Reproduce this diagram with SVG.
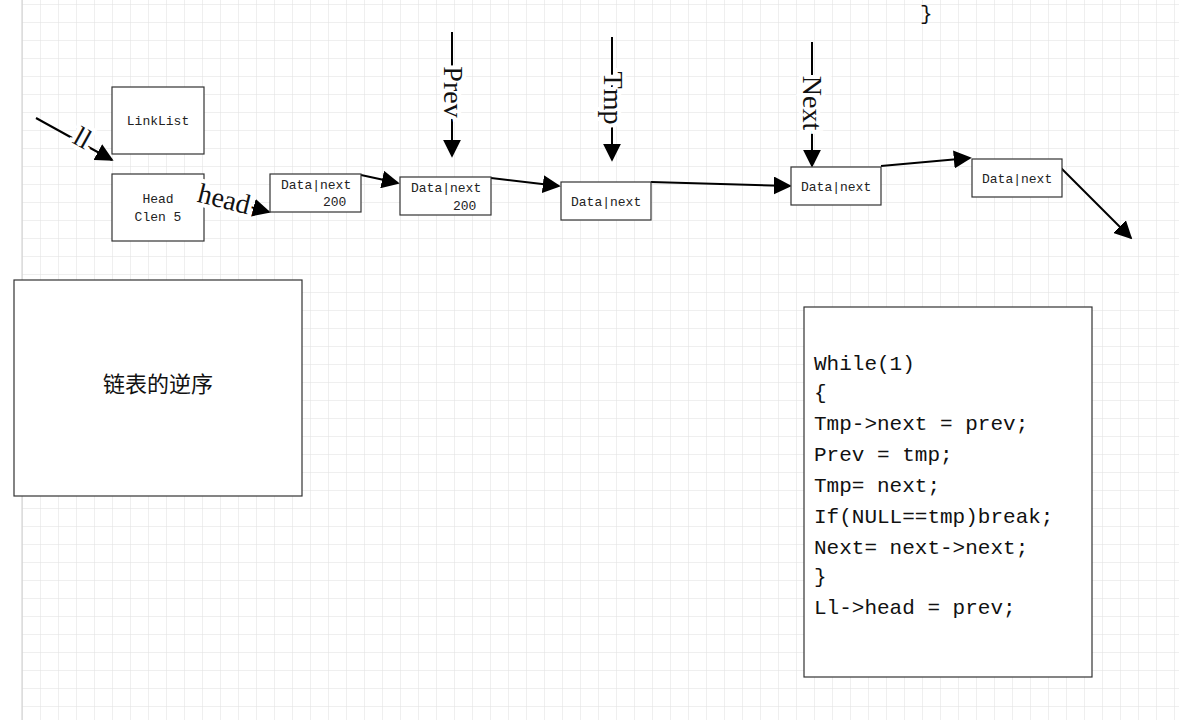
<svg xmlns="http://www.w3.org/2000/svg" width="1179" height="720" viewBox="0 0 1179 720">
<defs>
<pattern id="g" x="22" y="4" width="18" height="18" patternUnits="userSpaceOnUse"><path d="M0 0H18M0 0V18" stroke="#e0e0e0" stroke-width="1" fill="none"/></pattern>
<marker id="a" viewBox="0 0 10 10" refX="9" refY="5" markerWidth="18" markerHeight="18" markerUnits="userSpaceOnUse" orient="auto"><path d="M0 0L10 5L0 10z" fill="#000"/></marker>
<style>
.b{fill:#fff;stroke:#333;stroke-width:1.2}
.m{font-family:"Liberation Mono","DejaVu Sans Mono",monospace;font-size:13px;fill:#222}
.s{font-family:"Liberation Serif",serif;font-size:28px;fill:#111}
.c{font-family:"Liberation Mono","Noto Sans CJK SC",monospace;font-size:21px;fill:#111}
.l{stroke:#000;stroke-width:2;fill:none;marker-end:url(#a)}
</style>
</defs>
<rect width="1179" height="720" fill="#fff"/>
<rect x="22" y="0" width="1157" height="720" fill="url(#g)"/>
<line x1="22" y1="0" x2="22" y2="720" stroke="#ccc"/>
<text x="920" y="20" class="c" font-size="18">}</text>
<g id="conn">
<path class="l" d="M36 118L112 160"/>
<path class="l" d="M178 187L269 212"/>
<path class="l" d="M361 175L398 183"/>
<path class="l" d="M491 178L559 186"/>
<path class="l" d="M651 182L790 186"/>
<path class="l" d="M881 166L970 158"/>
<path class="l" d="M1061 168L1131 238"/>
<path class="l" d="M452 32V156"/>
<path class="l" d="M612 37V160"/>
<path class="l" d="M812 42V166"/>
</g>
<g id="linklist"><rect class="b" x="112" y="87" width="92" height="67"/><text class="m" x="158" y="125" text-anchor="middle">LinkList</text></g>
<g id="head"><rect class="b" x="112" y="174" width="92" height="67"/><text class="m" x="158" y="203" text-anchor="middle">Head</text><text class="m" x="158" y="221" text-anchor="middle">Clen 5</text></g>
<g id="n1"><rect class="b" x="270" y="174" width="91" height="38"/><text class="m" x="281" y="189">Data|next</text><text class="m" x="323" y="206">200</text></g>
<g id="n2"><rect class="b" x="400" y="177" width="91" height="38"/><text class="m" x="411" y="192">Data|next</text><text class="m" x="453" y="210">200</text></g>
<g id="n3"><rect class="b" x="561" y="182" width="90" height="38"/><text class="m" x="571" y="206">Data|next</text></g>
<g id="n4"><rect class="b" x="791" y="167" width="90" height="38"/><text class="m" x="801" y="191">Data|next</text></g>
<g id="n5"><rect class="b" x="972" y="159" width="90" height="38"/><text class="m" x="982" y="183">Data|next</text></g>
<g id="lbls">
<text class="s" transform="translate(78 146) rotate(29)" text-anchor="middle" stroke="#fff" stroke-width="8" paint-order="stroke">ll</text>
<text class="s" transform="translate(222 208) rotate(14)" text-anchor="middle" stroke="#fff" stroke-width="8" paint-order="stroke">head</text>
<text class="s" transform="translate(444 92) rotate(90)" text-anchor="middle" stroke="#fff" stroke-width="8" paint-order="stroke">Prev</text>
<text class="s" transform="translate(604 98) rotate(90)" text-anchor="middle" stroke="#fff" stroke-width="8" paint-order="stroke">Tmp</text>
<text class="s" transform="translate(803 103) rotate(90)" text-anchor="middle" stroke="#fff" stroke-width="8" paint-order="stroke">Next</text>
</g>
<g id="title"><rect class="b" x="14" y="280" width="288" height="216"/><text x="158" y="392" text-anchor="middle" font-family="Noto Sans CJK SC,sans-serif" font-size="22" fill="#111">链表的逆序</text></g>
<g id="code"><rect class="b" x="804" y="307" width="288" height="370"/>
<text class="c" x="814" y="370">While(1)</text>
<text class="c" x="814" y="399">{</text>
<text class="c" x="814" y="430">Tmp-&gt;next = prev;</text>
<text class="c" x="814" y="461">Prev = tmp;</text>
<text class="c" x="814" y="492">Tmp= next;</text>
<text class="c" x="814" y="523">If(NULL==tmp)break;</text>
<text class="c" x="814" y="554">Next= next-&gt;next;</text>
<text class="c" x="814" y="583">}</text>
<text class="c" x="814" y="614">Ll-&gt;head = prev;</text>
</g>
</svg>
